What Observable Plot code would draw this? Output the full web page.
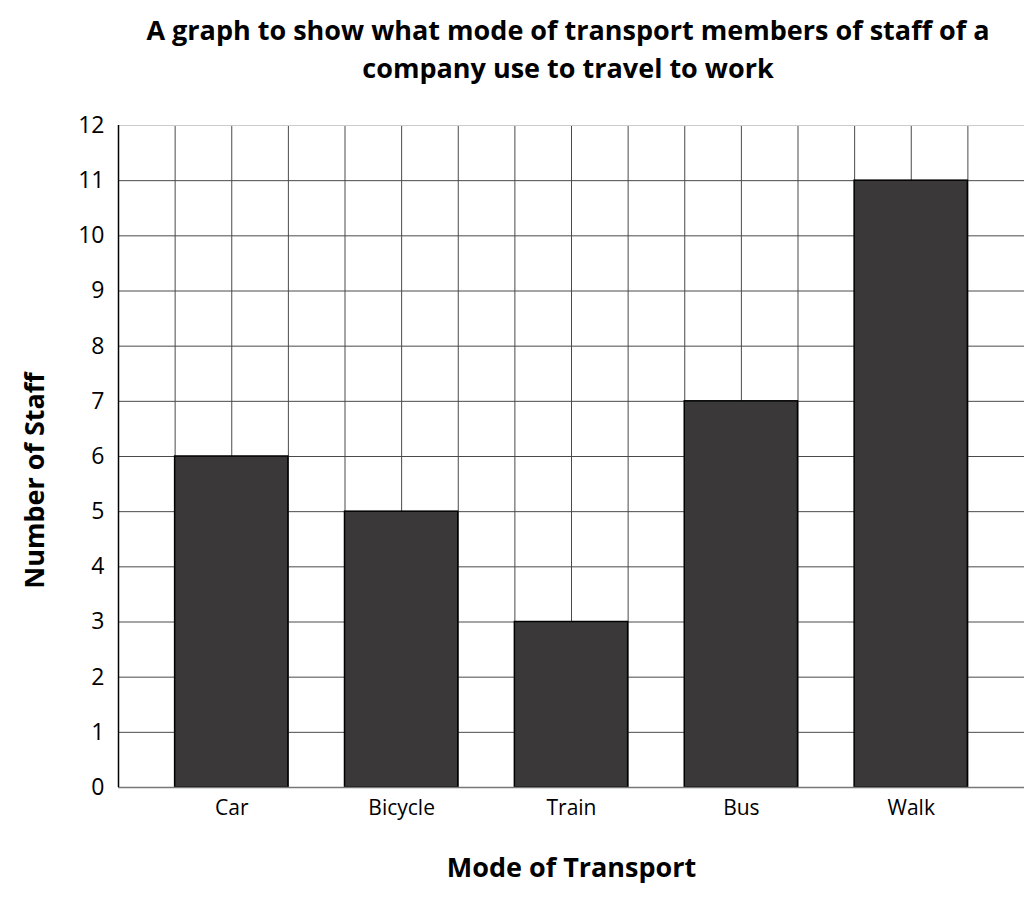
<!DOCTYPE html>
<html>
<head>
<meta charset="utf-8">
<script src="https://cdn.jsdelivr.net/npm/d3@7"></script>
<script src="https://cdn.jsdelivr.net/npm/@observablehq/plot@0.6"></script>
<style>
  body { margin: 0; background: #fff; font-family: "Open Sans", sans-serif; }
  #wrap { position: relative; width: 1024px; height: 905px; }
  #title { position: absolute; left: 68px; width: 1000px; top: 11px; text-align: center;
           font-weight: bold; font-size: 27px; line-height: 38px; color: #000; }
</style>
</head>
<body>
<div id="wrap">
  <div id="chart"></div>
  <div id="title">A graph to show what mode of transport members of staff of a<br>company use to travel to work</div>
</div>
<script>
const categories = ["Car", "Bicycle", "Train", "Bus", "Walk"];
const counts = [6, 5, 3, 7, 11];
const yTicks = [0, 1, 2, 3, 4, 5, 6, 7, 8, 9, 10, 11, 12];
const xLabel = "Mode of Transport";
const yLabel = "Number of Staff";

// each category occupies 3 grid cells; bar spans the middle two cells of a slot
const data = categories.map((c, i) => ({mode: c, count: counts[i], x1: 3 * i + 1, x2: 3 * i + 3, xc: 3 * i + 2}));
const gridXs = d3.range(0, 17);

const chart = Plot.plot({
  width: 1024,
  height: 905,
  marginLeft: 118,
  marginRight: 0,
  marginTop: 125,
  marginBottom: 118,
  style: {fontFamily: "Open Sans, sans-serif", fontSize: "20px", color: "#000", background: "#fff"},
  x: {domain: [0, 16], axis: null},
  y: {domain: [0, 12], axis: null},
  marks: [
    Plot.ruleX(gridXs, {x: d => d, y1: 0, y2: 12, stroke: "#4a4a4a", strokeWidth: 1}),
    Plot.ruleY(yTicks.filter(d => d > 0 && d < 12), {y: d => d, stroke: "#4a4a4a", strokeWidth: 1}),
    Plot.ruleY([12], {stroke: "#cccccc", strokeWidth: 1}),
    Plot.rectY(data, {x1: "x1", x2: "x2", y1: 0, y2: "count", fill: "#3a3839", stroke: "#000", strokeWidth: 1.5}),
    Plot.ruleY([0], {stroke: "#777", strokeWidth: 1.5}),
    Plot.ruleX([0], {y1: 0, y2: 12, stroke: "#000", strokeWidth: 1.5}),
    Plot.axisY(yTicks, {tickSize: 0, tickPadding: 14, fontSize: 23, label: null, tickFormat: d => String(d)}),
    Plot.axisX(data.map(d => d.xc), {tickSize: 0, tickPadding: 13, fontSize: 21, label: null,
      tickFormat: v => categories[(v - 2) / 3]}),
    Plot.text([xLabel], {frameAnchor: "bottom", dy: 89, fontSize: 27, fontWeight: "bold"}),
    Plot.text([yLabel], {frameAnchor: "left", textAnchor: "middle", dx: -83, dy: 24, rotate: -90, fontSize: 27, fontWeight: "bold"})
  ]
});
document.getElementById("chart").appendChild(chart);
</script>
</body>
</html>
